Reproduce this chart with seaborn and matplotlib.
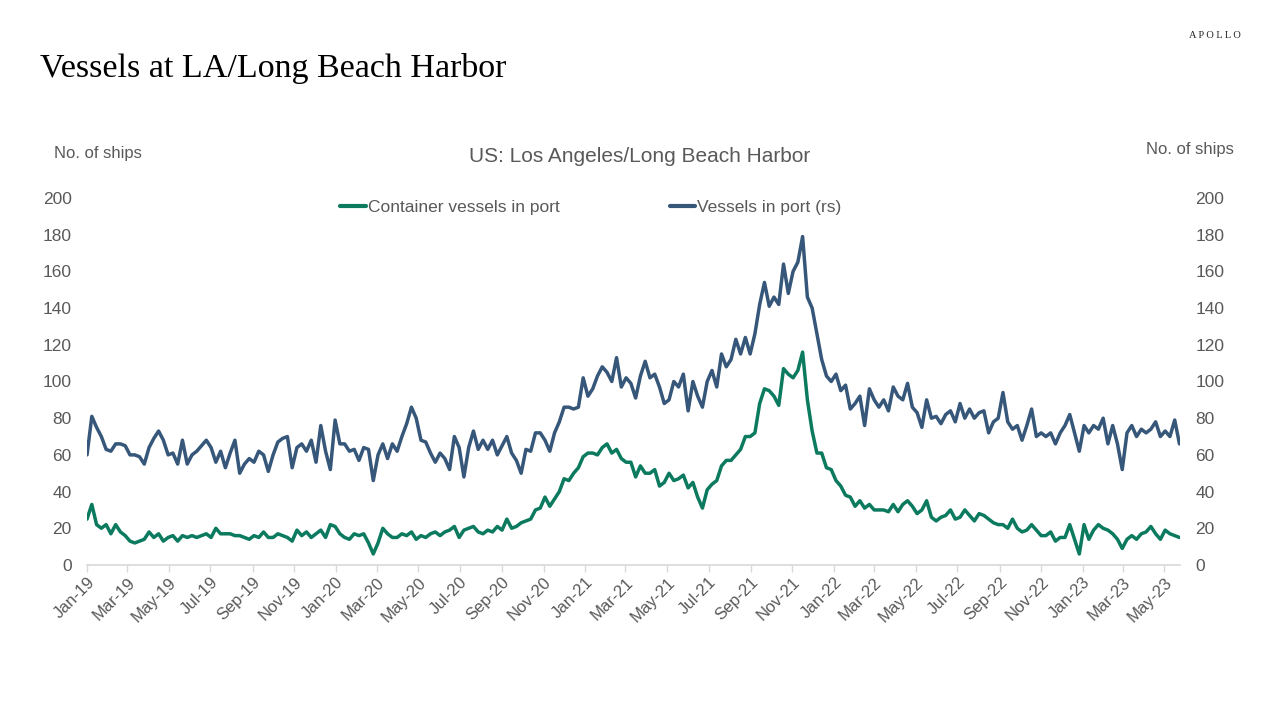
import matplotlib
matplotlib.use("Agg")
import matplotlib.pyplot as plt
import matplotlib.dates as mdates
from matplotlib.lines import Line2D
import numpy as np
import pandas as pd
import seaborn as sns

# ---- data (weekly readings from the chart) ----
start_date = "2019-01-01"
container_vessels = [
    25, 33, 22, 20, 22, 17, 22, 18, 16, 13, 12, 13, 14, 18, 15, 17, 13, 15, 16, 13,
    16, 15, 16, 15, 16, 17, 15, 20, 17, 17, 17, 16, 16, 15, 14, 16, 15, 18, 15,
    15, 17, 16, 15, 13, 19, 16, 18, 15, 17, 19, 15, 22, 21, 17, 15, 14, 17, 16, 17,
    12, 6, 12, 20, 17, 15, 15, 17, 16, 18, 14, 16, 15, 17, 18, 16, 18, 19,
    21, 15, 19, 20, 21, 18, 17, 19, 18, 21, 19, 25, 20, 21, 23, 24, 25, 30, 31, 37,
    32, 36, 40, 47, 46, 50, 53, 59, 61, 61, 60, 64, 66, 61, 63, 58, 56,
    56, 48, 54, 50, 50, 52, 43, 45, 50, 46, 47, 49, 42, 45, 37, 31, 41, 44, 46, 54,
    57, 57, 60, 63, 70, 70, 72, 88, 96, 95, 92, 87, 107, 104, 102, 106,
    116, 90,
    73, 61, 61, 53, 52, 46, 43, 38, 37, 32, 35, 31, 33, 30, 30, 30, 29, 33, 29, 33,
    35, 32, 28, 30, 35, 26, 24, 26, 27, 30, 25, 26, 30, 27, 24, 28, 27, 25,
    23, 22, 22, 20, 25, 20, 18, 19, 22, 19, 16, 16, 18, 13, 15, 15, 22, 14, 6, 22,
    14, 19, 22, 20, 19, 17, 14, 9, 14, 16, 14, 17, 18, 21, 17, 14, 19, 17, 16, 15,
]
vessels_in_port = [
    60, 81, 75, 70, 63, 62, 66, 66, 65, 60, 60, 59, 55, 64, 69, 73, 68, 60, 61, 55,
    68, 55, 60, 62, 65, 68, 64, 56, 62, 53, 61, 68, 50, 55, 58, 56, 62, 60, 51,
    60, 67, 69, 70, 53, 64, 66, 62, 68, 56, 76, 62, 52, 79, 66, 66, 62, 63, 57, 64,
    63, 46, 60, 66, 58, 66, 62, 70, 77, 86, 80, 68, 67, 61, 56, 61, 58, 52,
    70, 64, 48, 64, 73, 63, 68, 63, 68, 60, 65, 70, 61, 57, 50, 63, 62, 72, 72, 68,
    62, 72, 78, 86, 86, 85, 86, 102, 92, 96, 103, 108, 105, 100, 113, 97, 102,
    99, 91, 103, 111, 102, 104, 97, 88, 90, 100, 97, 104, 84, 100, 92, 86, 100, 106, 97, 115,
    108, 112, 123, 115, 124, 115, 126, 142, 154, 141, 146, 142, 164, 148, 160, 165,
    179, 146,
    140, 126, 112, 103, 100, 104, 95, 98, 85, 88, 92, 76, 96, 90, 86, 90, 84, 97, 92, 90,
    99, 86, 83, 75, 90, 80, 81, 77, 82, 84, 78, 88, 80, 85, 80, 83, 84, 72,
    78, 80, 94, 78, 74, 76, 68, 76, 85, 70, 72, 70, 72, 66, 72, 76, 82, 72, 62, 76,
    72, 76, 74, 80, 66, 76, 66, 52, 72, 76, 70, 74, 72, 74, 78, 70, 73, 70, 79, 66,
]
dates = pd.date_range(start_date, periods=len(vessels_in_port), freq="7D")
y_ticks = [0, 20, 40, 60, 80, 100, 120, 140, 160, 180, 200]
series_names = ["Container vessels in port", "Vessels in port (rs)"]

df = pd.DataFrame({"date": dates,
                   series_names[0]: container_vessels,
                   series_names[1]: vessels_in_port})

GREEN = "#0B7A5E"
BLUE = "#365779"
GRAY = "#595959"

sns.set_theme(style="white")
plt.rcParams["font.family"] = ["Liberation Sans", "DejaVu Sans"]

fig = plt.figure(figsize=(12.8, 7.2), dpi=100)
ax = fig.add_axes([0.068, 0.2153, 0.854, 0.5097])
ax2 = ax.twinx()

sns.lineplot(data=df, x="date", y=series_names[0], ax=ax,
             color=GREEN, linewidth=2.5, legend=False)
sns.lineplot(data=df, x="date", y=series_names[1], ax=ax2,
             color=BLUE, linewidth=2.5, legend=False)

for a in (ax, ax2):
    a.set_ylim(0, 200)
    a.set_yticks(y_ticks)
    a.set_xlim(pd.Timestamp("2019-01-01"), dates[-1] + pd.Timedelta(days=1))
    a.set_xlabel("")
    a.set_ylabel("")
    for s in ("top", "left", "right"):
        a.spines[s].set_visible(False)
    a.spines["bottom"].set_color("#D9D9D9")
    a.grid(False)

ax.tick_params(axis="y", labelsize=12.5, labelcolor=GRAY, length=0, pad=11)
ax2.tick_params(axis="y", labelsize=12.5, labelcolor=GRAY, length=0, pad=11)
ax2.spines["bottom"].set_visible(False)

ax.xaxis.set_major_locator(mdates.MonthLocator(bymonth=[1, 3, 5, 7, 9, 11]))
ax.xaxis.set_major_formatter(mdates.DateFormatter("%b-%y"))
ax.tick_params(axis="x", labelsize=12, labelcolor=GRAY, length=5, width=1,
               color="#D9D9D9", direction="out", bottom=True, pad=2)
plt.setp(ax.get_xticklabels(), rotation=45, ha="right", rotation_mode="anchor")
ax2.tick_params(axis="x", bottom=False, labelbottom=False)

# legend
handles = [Line2D([0], [0], color=GREEN, lw=3),
           Line2D([0], [0], color=BLUE, lw=3)]
fig.legend(handles, series_names,
           loc="center left", bbox_to_anchor=(0.266, 0.712), ncol=2, frameon=False,
           fontsize=12.5, labelcolor=GRAY, handlelength=1.45, handletextpad=0.12,
           columnspacing=6.35, borderpad=0, borderaxespad=0)

# texts
fig.text(0.031, 0.905, "Vessels at LA/Long Beach Harbor", fontsize=24.5,
         family=["Liberation Serif", "DejaVu Serif"], color="black", va="center")
fig.text(0.969, 0.951, "A P O L L O", fontsize=7.5,
         family=["Liberation Serif", "DejaVu Serif"], color="#222222",
         ha="right", va="center")
fig.text(0.5, 0.782, "US: Los Angeles/Long Beach Harbor", fontsize=15,
         color=GRAY, ha="center", va="center")
fig.text(0.042, 0.787, "No. of ships", fontsize=12, color=GRAY, va="center")
fig.text(0.964, 0.792, "No. of ships", fontsize=12, color=GRAY, va="center",
         ha="right")

fig.savefig("out.png", dpi=100)
